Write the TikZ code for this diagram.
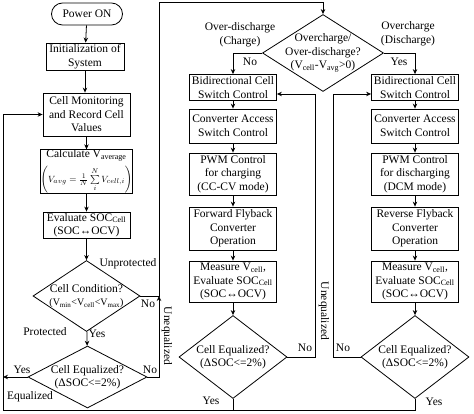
\documentclass[tikz,border=0pt]{standalone}
\usepackage{fontspec}
\setmainfont{Liberation Serif}
\usepackage{amsmath}
\usetikzlibrary{arrows.meta,positioning,calc,shapes.geometric}

\tikzset{
  box/.style={draw, rectangle, align=center, minimum width=87pt, inner sep=1pt},
  startbox/.style={draw, rectangle, rounded corners=11pt, minimum width=71pt, minimum height=22pt},
  decision/.style={draw, diamond, align=center, inner sep=-14pt},
  arr/.style={-{Stealth[length=5pt,width=4.5pt]}},
  lbl/.style={inner sep=1pt, align=center}
}

\begin{document}
\begin{tikzpicture}[x=1pt, y=-1pt, line width=0.8pt, font=\fontsize{11.5}{13.5}\selectfont]
  \useasboundingbox (0,0) rectangle (474,414);
  \node[startbox] (power) at (87,14) {Power ON};
  \node[box, minimum width=78pt, minimum height=27pt] (init) at (85,56.5) {Initialization of\\System};
  \node[box, minimum height=43pt] (monitor) at (86.5,114.5) {Cell Monitoring\\and Record Cell\\Values};
  \node[box, minimum height=43pt, inner sep=0pt] (calc) at (86.5,171.5) {Calculate V\textsubscript{average}\\[4pt]
      {\fontsize{9.5}{11}\selectfont$\left(V_{avg}=\tfrac{1}{N}\sum\limits_{i}^{N}V_{cell,i}\right)$}};
  \node[box, minimum height=26pt] (evalsoc) at (86.5,225) {Evaluate SOC\textsubscript{Cell}\\(SOC↔OCV)};
  \node[decision, minimum width=107pt, minimum height=71pt] (cond) at (86.5,296)
      {Cell Condition?\\{\fontsize{10}{12}\selectfont(V\textsubscript{min}<V\textsubscript{cell}<V\textsubscript{max})}};
  \node[decision, minimum width=119pt, minimum height=62pt] (equal0) at (87.5,377) {Cell Equalized?\\(ΔSOC<=2\%)};

  \node[decision, minimum width=121pt, minimum height=77pt] (ovc) at (323,53)
      {Overcharge/\\Over-discharge?\\(V\textsubscript{cell}-V\textsubscript{avg}>0)};

  \foreach \c/\x/\pwm/\fly in {1/233/{for charging\\(CC-CV mode)}/Forward, 2/415/{for discharging\\(DCM mode)}/Reverse}{
    \node[box, minimum height=26pt] (bd\c) at (\x,87.5) {Bidirectional Cell\\Switch Control};
    \node[box, minimum height=34pt] (ca\c) at (\x,126) {Converter Access\\Switch Control};
    \node[box, minimum height=42pt] (pwm\c) at (\x,174) {PWM Control\\\pwm};
    \node[box, minimum height=43pt] (fly\c) at (\x,228.5) {\fly{} Flyback\\Converter\\Operation};
    \node[box, minimum height=41pt] (meas\c) at (\x,281.5) {Measure V\textsubscript{cell},\\Evaluate SOC\textsubscript{Cell}\\(SOC↔OCV)};
    \node[decision, minimum width=108pt, minimum height=83pt] (equal\c) at (\x,357) {Cell Equalized?\\(ΔSOC<=2\%)};
    \draw[arr] (bd\c) -- (ca\c);
    \draw[arr] (ca\c) -- (pwm\c);
    \draw[arr] (pwm\c) -- (fly\c);
    \draw[arr] (fly\c) -- (meas\c);
    \draw[arr] (meas\c) -- (equal\c);
  }

  \coordinate (lb) at (3,410);
  \coordinate (rt) at (159,2);
  \coordinate (mloop) at (315,94);
  \coordinate (rloop) at (333,94);

  \draw[arr] (power) -- (init);
  \draw[arr] (init) -- (init |- monitor.north);
  \draw[arr] (monitor) -- (calc);
  \draw[arr] (calc) -- (evalsoc);
  \draw[arr] (evalsoc) -- (cond);
  \draw[arr] (cond) -- (equal0);
  \draw[arr] (equal0.west) -- (equal0.west -| lb);
  \draw[arr] (equal2.south) |- (lb) |- (monitor.west);
  \draw (equal1.south) -- (equal1.south |- lb);
  \draw[arr] (cond.east) -| (rt) -| (ovc.north);
  \draw[arr] (equal0.east) -| (cond.east -| rt);
  \draw[arr] (ovc.west) -| (bd1.north);
  \draw[arr] (ovc.east) -| (bd2.north);
  \draw[arr] (equal1.east) -| (mloop) -- (mloop -| bd1.east);
  \draw[arr] (equal2.west) -| (rloop) -- (rloop -| bd2.west);

  \node[lbl] (unprot) at (128,264) {Unprotected};
  \node[lbl] (no0) at (148,304) {No};
  \node[lbl] (prot) at (45,332) {Protected};
  \node[lbl] (yes0) at (97,334) {Yes};
  \node[lbl] (yes3) at (22,370) {Yes};
  \node[lbl] (eqd) at (30,397) {Equalized};
  \node[lbl] (no3) at (150,370) {No};
  \node[lbl, rotate=-90] (uneq0) at (167,336) {Unequalized};
  \node[lbl] (odis) at (240,35) {Over-discharge\\(Charge)};
  \node[lbl] (no4) at (250,62) {No};
  \node[lbl] (ochg) at (408,34) {Overcharge\\(Discharge)};
  \node[lbl] (yes4) at (399,62) {Yes};
  \node[lbl] (no1) at (305,348) {No};
  \node[lbl, rotate=-90] (uneq1) at (324,311) {Unequalized};
  \node[lbl] (no2) at (343,348) {No};
  \node[lbl] (yes1) at (211,401) {Yes};
  \node[lbl] (yes2) at (434,402) {Yes};
\end{tikzpicture}
\end{document}
